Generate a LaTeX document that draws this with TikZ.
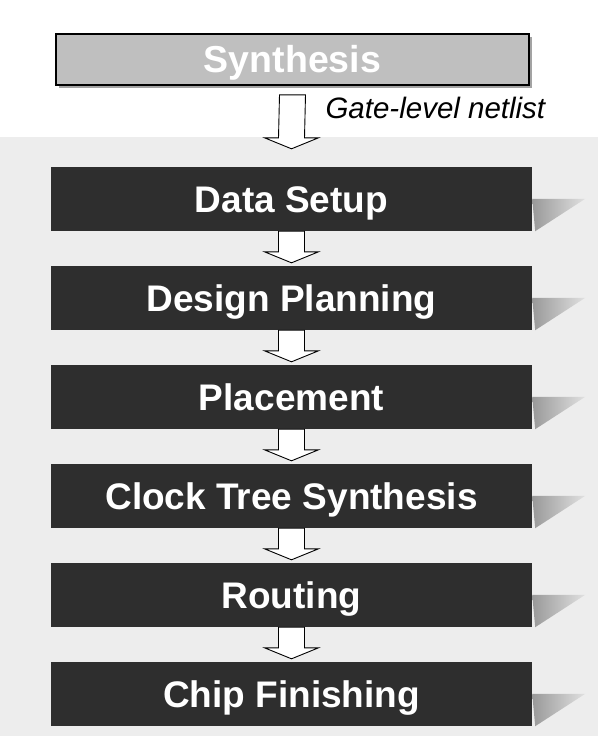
\documentclass[tikz,border=0pt]{standalone}
\usepackage{fontspec}
\setmainfont{Liberation Sans}
\usepackage{tikz}
\usetikzlibrary{calc}
\usetikzlibrary{shadows}

\tikzset{
	stagebox/.style={fill=black!82, text=white, font=\fontsize{37}{40}\selectfont\bfseries,
		minimum width=481pt, minimum height=64pt, inner sep=0pt, text height=26.5pt, text depth=0pt},
	inputbox/.style={fill=black!25, draw=black, line width=1.8pt, text=white,
		font=\fontsize{37.5}{40}\selectfont\bfseries, minimum width=473pt, minimum height=51pt,
		inner sep=0pt, text height=26.5pt, text depth=0pt,
		drop shadow={shadow xshift=3pt, shadow yshift=-3pt, fill=black!45, opacity=0.8}},
	flowarr/.style={draw=black, line width=0.9pt, fill=white, line join=miter},
	boxshade/.style={left color=black!40, right color=black!12},
}

% hollow block arrow: from, to, gap below from, gap of the tip above to
\newcommand{\flowarrow}[4]{%
	\draw[flowarr] ($(#1.south)+(-13,#3)$) -- ($(#2.north)+(-13,-#4-11)$) -- ($(#2.north)+(-27,-#4-11)$)
		-- ($(#2.north)+(0,-#4)$) -- ($(#2.north)+(27,-#4-11)$) -- ($(#2.north)+(13,-#4-11)$)
		-- ($(#1.south)+(13,#3)$) -- cycle;}

\begin{document}
\begin{tikzpicture}[x=1pt,y=-1pt]
	\useasboundingbox (0,0) rectangle (598,736);
	\fill[black!7] (0,137) rectangle (598,736);
	
	\node[inputbox] (synth) at (292.5,59.5) {Synthesis};
	\node[anchor=base west, font=\fontsize{29.5}{31}\selectfont\itshape] (netlist) at (322,118) {Gate-level netlist};
	
	\node[stagebox] (setup) at (291.5,199) {Data Setup};
	\node[stagebox] (plan) at (291.5,298) {Design Planning};
	\node[stagebox] (place) at (291.5,397) {Placement};
	\node[stagebox] (cts) at (291.5,496) {Clock Tree Synthesis};
	\node[stagebox] (route) at (291.5,595) {Routing};
	\node[stagebox] (finish) at (291.5,694) {Chip Finishing};
	
	% slanted shades right of the stages
	\foreach \n in {setup,plan,place,cts,route,finish}
		\shade[boxshade] ($(\n.north east)+(0,32)$) -- ++(53,0) -- ($(\n.south east)+(3,0)$) -- cycle;
	
	\flowarrow{synth}{setup}{9}{18}
	\flowarrow{setup}{plan}{0}{3}
	\flowarrow{plan}{place}{0}{3}
	\flowarrow{place}{cts}{0}{3}
	\flowarrow{cts}{route}{0}{3}
	\flowarrow{route}{finish}{0}{3}
\end{tikzpicture}
\end{document}
